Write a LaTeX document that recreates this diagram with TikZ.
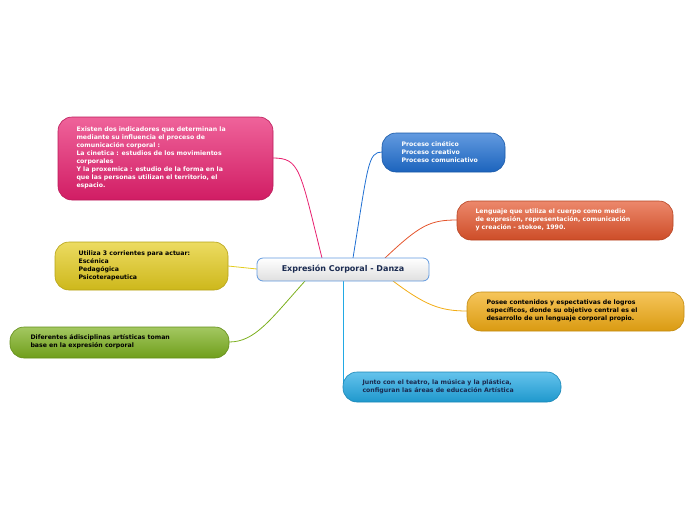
\documentclass[tikz,border=0pt]{standalone}
\usepackage{fontspec}
\setmainfont{DejaVu Sans}
\begin{document}
\begin{tikzpicture}[x=1pt,y=-1pt,
 box/.style={rounded corners=14pt,draw=#1!80!black,line width=0.6pt,top color=#1!70!white,bottom color=#1!90!black,inner sep=0pt},
 txt/.style={font=\bfseries\fontsize{6.2}{8}\selectfont,align=left,anchor=west},
 con/.style={line width=0.8pt}]
\useasboundingbox (0,0) rectangle (696,520);
\definecolor{cpink}{HTML}{E8206F}
\definecolor{cblue}{HTML}{1F6FD2}
\definecolor{cred}{HTML}{E4552C}
\definecolor{corange}{HTML}{F2AC14}
\definecolor{cyel}{HTML}{E4CC1E}
\definecolor{cgreen}{HTML}{7CB01E}
\definecolor{clblue}{HTML}{22A9E4}
\definecolor{navy}{HTML}{1A2A50}
% connectors
\coordinate (cpt) at (322,258); \coordinate (cbt) at (353,258);
\coordinate (crt) at (385,258); \coordinate (cob) at (393,281);
\coordinate (clb) at (343,281); \coordinate (cyl) at (257,269);
\coordinate (cgb) at (305,281);
\coordinate (pk) at (273,158); \coordinate (bl) at (382,152);
\coordinate (rd) at (457,220); \coordinate (or) at (467,311);
\coordinate (lb) at (343,387); \coordinate (ye) at (228,266);
\coordinate (gr) at (229,342);
\draw[con,cpink] (cpt) .. controls (300,170) and (300,158) .. (pk);
\draw[con,cblue] (cbt) .. controls (368,165) and (368,152) .. (bl);
\draw[con,cred] (crt) .. controls (420,225) and (430,220) .. (rd);
\draw[con,corange] (cob) .. controls (425,305) and (440,311) .. (or);
\draw[con,clblue] (clb) -- (lb);
\draw[con,cyel] (cyl) -- (ye);
\draw[con,cgreen] (cgb) .. controls (270,320) and (255,342) .. (gr);
% boxes
\path[box=cpink] (58,117) rectangle (273,200);
\node[txt,text=white] (pink) at (73,158) {Existen dos indicadores que determinan la\\mediante su influencia el proceso de\\comunicación corporal :\\La cinetica : estudios de los movimientos\\corporales\\Y la proxemica : estudio de la forma en la\\que las personas utilizan el territorio, el\\espacio.};
\path[box=cblue] (382,133) rectangle (505,172);
\node[txt,text=white] (blue) at (398,152) {Proceso cinético\\Proceso creativo\\Proceso comunicativo};
\path[box=cred] (457,201) rectangle (673,240);
\node[txt,text=white] (red) at (472,220) {Lenguaje que utiliza el cuerpo como medio\\de expresión, representación, comunicación\\y creación - stokoe, 1990.};
\path[box=corange] (467,292) rectangle (684,331);
\node[txt,text=black] (orange) at (483,311) {Posee contenidos y espectativas de logros\\específicos, donde su objetivo central es el\\desarrollo de un lenguaje corporal propio.};
\path[box=cyel] (55,242) rectangle (228,290);
\node[txt,text=black] (yel) at (75,266) {Utiliza 3 corrientes para actuar:\\Escénica\\Pedagógica\\Psicoterapeutica};
\path[box=cgreen] (10,327) rectangle (229,358);
\node[txt,text=black] (green) at (27,342) {Diferentes ádisciplinas artísticas toman\\base en la expresión corporal};
\path[box=clblue] (343,372) rectangle (561,402);
\node[txt,text=navy] (lblue) at (359,387) {Junto con el teatro, la música y la plástica,\\configuran las áreas de educación Artística};
\path[rounded corners=6pt,draw=cblue!70,line width=0.8pt,top color=white,bottom color=gray!25] (257,258) rectangle (429,281);
\node[font=\bfseries\fontsize{8}{10}\selectfont,text=navy] (center) at (343,269.5) {Expresión Corporal - Danza};
\end{tikzpicture}
\end{document}
